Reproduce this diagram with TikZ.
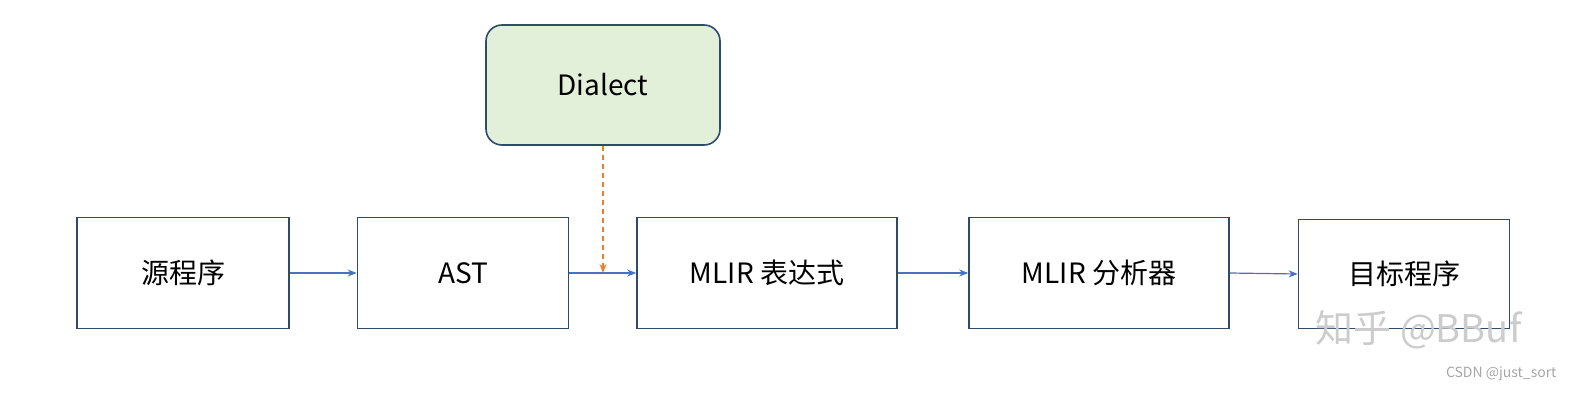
\documentclass[tikz,border=0pt]{standalone}
\usepackage{fontspec}
\setmainfont{Noto Sans CJK SC}
\usetikzlibrary{arrows.meta}
\definecolor{bd}{HTML}{2F4B6B}
\definecolor{ar}{HTML}{4472C4}
\definecolor{og}{HTML}{ED7D31}
\definecolor{gf}{HTML}{E2F0D9}
\begin{document}
\begin{tikzpicture}[x=1pt,y=-1pt,
  box/.style={draw=bd,line width=1.6pt,inner sep=0pt,font=\fontsize{28}{32}\selectfont},
  con/.style={draw=ar,line width=1.2pt,-{Stealth[length=9pt,width=7pt]}}]
\useasboundingbox (0,0) rectangle (1594,400);
\node[box,minimum width=212,minimum height=111] (a) at (183,273) {源程序};
\node[box,minimum width=211,minimum height=111] (b) at (463,273) {AST};
\node[box,minimum width=260,minimum height=111] (c) at (767,273) {MLIR 表达式};
\node[box,minimum width=260,minimum height=111] (d) at (1099,273) {MLIR 分析器};
\node[box,minimum width=211,minimum height=109] (e) at (1404,274) {目标程序};
\node[box,fill=gf,rounded corners=16pt,minimum width=234,minimum height=120] (f) at (603,85) {Dialect};
\draw[con] (a.east) -- (b.west);
\draw[con] (b.east) -- (c.west);
\draw[con] (c.east) -- (d.west);
\draw[con] (d.east) -- (e.west);
\coordinate (j) at (603,273);
\draw[draw=og,line width=1.2pt,dash pattern=on 5pt off 4pt,-{Stealth[length=9pt,width=7pt]}] (f.south) -- (j);
\node[text=gray!40,font=\fontsize{38}{42}\selectfont,anchor=west] (w) at (1312,330) {知乎 @BBuf};
\node[text=gray!70,font=\fontsize{14}{16}\selectfont,anchor=east] (cs) at (1560,374) {CSDN @just\_sort};
\end{tikzpicture}
\end{document}
